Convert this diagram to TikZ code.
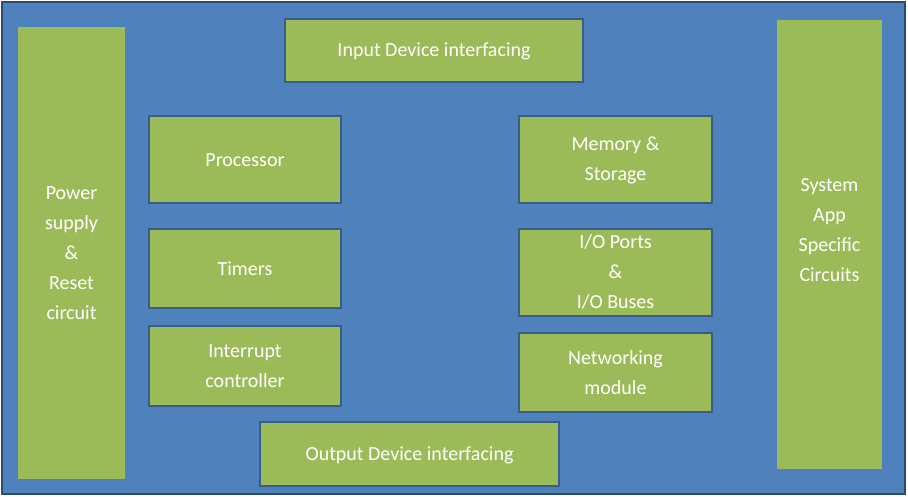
\documentclass[tikz,border=0pt]{standalone}
\usepackage{fontspec}
\setmainfont{Carlito}
\definecolor{bg}{HTML}{4F81BD}
\definecolor{gr}{HTML}{9BBB59}
\definecolor{bd}{HTML}{385D8A}
\begin{document}
\begin{tikzpicture}[x=1pt,y=-1pt,
  box/.style={fill=gr,draw=bd,line width=2pt},
  sbox/.style={fill=gr},
  txt/.style={text=white,align=center,font=\fontsize{20}{30}\selectfont}]
\useasboundingbox (0,0) rectangle (908,497);
\fill[white] (0,0) rectangle (908,497);
\draw[fill=bg,draw=bd!80!black,line width=2pt] (2,2) rectangle (905,494);
\fill[sbox] (18,27) rectangle (125,479) coordinate (pw);
\node[txt] (power) at (71.5,253) {Power\\supply\\\&\\Reset\\circuit};
\fill[sbox] (777,20) rectangle (882,469);
\node[txt] (sys) at (829.5,230) {System\\App\\Specific\\Circuits};
\draw[box] (285,19) rectangle (583,82);
\node[txt] (in) at (434,51) {Input Device interfacing};
\draw[box] (149,116) rectangle (341,203);
\node[txt] (proc) at (245,160) {Processor};
\draw[box] (149,229) rectangle (341,308);
\node[txt] (tim) at (245,269) {Timers};
\draw[box] (149,326) rectangle (341,406);
\node[txt] (int) at (245,366) {Interrupt\\controller};
\draw[box] (519,116) rectangle (712,203);
\node[txt] (mem) at (615.5,160) {Memory \&\\Storage};
\draw[box] (519,229) rectangle (712,316);
\node[txt] (io) at (615.5,272) {I/O Ports\\\&\\I/O Buses};
\draw[box] (519,333) rectangle (712,412);
\node[txt] (net) at (615.5,373) {Networking\\module};
\draw[box] (260,422) rectangle (559,486);
\node[txt] (out) at (409.5,455) {Output Device interfacing};
\end{tikzpicture}
\end{document}
